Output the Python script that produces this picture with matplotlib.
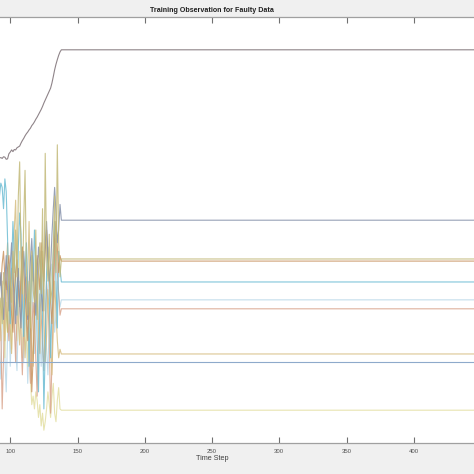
import numpy as np
import matplotlib
matplotlib.use('Agg')
import matplotlib.pyplot as plt

plt.rcParams['font.family'] = ['Liberation Sans', 'DejaVu Sans']

# time steps of the recorded (noisy) part, then the signals hold their last value
t_noisy = list(range(92, 139))
t_end = 450

dark = [66.9, 67.0, 66.8, 67.2, 67.1, 66.6, 66.7, 67.9, 68.3, 68.8,
        68.4, 68.9, 68.8, 69.3, 69.5, 69.7, 70.4, 71.0, 71.5, 72.1,
        72.6, 73.0, 73.5, 73.9, 74.5, 74.9, 75.4, 76.0, 76.5, 77.1,
        77.7, 78.3, 79.0, 79.8, 80.5, 81.2, 81.9, 82.6, 83.3, 84.5,
        86.0, 87.6, 88.9, 90.0, 91.0, 91.8, 92.3]
slate = [35, 40, 33, 29, 38, 44, 36, 31, 42, 47, 39, 34, 28, 36, 41, 33,
         27, 38, 45, 40, 35, 29, 37, 43, 48, 40, 34, 30, 38, 46, 42, 36,
         31, 39, 47, 52, 44, 38, 41, 49, 55, 60, 54, 47, 50, 56, 52.3]
olive = [30, 34, 28, 40, 36, 31, 26, 42, 38, 33, 45, 40, 50, 39, 58, 66,
         44, 35, 52, 64, 41, 30, 38, 27, 45, 36, 33, 50, 29, 40, 47, 35,
         55, 31, 68, 44, 38, 49, 33, 36, 46, 58, 40, 70, 47, 39, 43.2]
orange = [40, 37, 42, 45, 39, 36, 41, 44, 38, 30, 26, 35, 40, 43, 37, 32,
          39, 46, 41, 35, 30, 24, 33, 28, 12, 20, 31, 38, 44, 40, 36, 47,
          42, 38, 45, 50, 44, 39, 33, 28, 36, 48, 52, 46, 40, 44, 42.7]
teal = [58, 61, 60, 55, 62, 59, 48, 35, 28, 41, 52, 44, 38, 30, 46, 54,
        49, 33, 25, 40, 47, 36, 18, 30, 44, 38, 50, 42, 24, 12, 33, 45,
        29, 8, 22, 40, 46, 35, 20, 31, 44, 52, 38, 27, 45, 41, 37.8]
pale_blue = [22, 15, 28, 34, 20, 12, 25, 31, 18, 27, 36, 30, 22, 17, 29, 38,
             33, 24, 19, 31, 26, 14, 23, 35, 40, 28, 21, 33, 39, 30, 25, 18,
             27, 36, 31, 22, 16, 29, 37, 42, 34, 26, 30, 38, 35, 32, 33.6]
salmon = [30, 26, 8, 20, 33, 38, 29, 24, 35, 41, 36, 28, 19, 30, 37, 32,
          25, 16, 27, 34, 39, 31, 22, 14, 26, 33, 29, 20, 11, 24, 35, 30,
          23, 17, 28, 38, 33, 25, 7, 19, 32, 44, 48, 40, 35, 30, 31.5]
tan = [25, 32, 38, 30, 24, 41, 47, 36, 27, 21, 33, 50, 57, 40, 29, 23,
       35, 46, 31, 20, 27, 39, 52, 34, 24, 18, 30, 43, 37, 26, 21, 33,
       45, 28, 19, 25, 36, 30, 22, 16, 27, 38, 31, 24, 20, 22, 20.9]
pale_yellow = [30, 24, 36, 28, 20, 33, 26, 38, 31, 22, 35, 42, 29, 24, 37, 45,
               32, 20, 28, 34, 26, 18, 30, 15, 9, 11, 8, 12, 10, 6, 9, 4,
               7, 3, 5, 8, 12, 9, 6, 11, 14, 7, 5, 10, 13, 8, 7.7]
blue_level = 19.0   # this channel stays flat the whole time

series = [
    (pale_blue, '#b9d8e8'),
    (pale_yellow, '#e3dfa2'),
    (salmon, '#d9a48c'),
    (tan, '#d6bd80'),
    (teal, '#6cbcd3'),
    (orange, '#c9935f'),
    (slate, '#8591ab'),
    (olive, '#c2b978'),
]

fig = plt.figure(figsize=(4.74, 4.74), dpi=100, facecolor='#f0f0f0')
# axes is wider than the canvas: the original figure was cropped on the left
ax = fig.add_axes([-57 / 474, 31 / 474, 538 / 474, 426 / 474])
ax.set_facecolor('white')

for vals, col in series:
    ax.plot(t_noisy + [t_end], vals + [vals[-1]], color=col, linewidth=0.8, alpha=0.85)
ax.plot([t_noisy[0], t_end], [blue_level, blue_level], color='#8eaacb', linewidth=0.8)
ax.plot(t_noisy + [t_end], dark + [dark[-1]], color='#8f8489', linewidth=0.8)

ax.set_xlim(50, 450)
ax.set_ylim(0, 100)
ax.set_xticks(range(100, 401, 50))
ax.set_yticks([])
ax.tick_params(axis='x', direction='in', length=4, width=0.8, color='#707070',
               labelsize=4.3, labelcolor='#505050', pad=4, top=True)
for side in ['left', 'right']:
    ax.spines[side].set_visible(False)
for side in ['top', 'bottom']:
    ax.spines[side].set_color('#a0a0a0')
    ax.spines[side].set_linewidth(0.9)

ax.set_title('Training Observation for Faulty Data', fontsize=5.1,
             fontweight='bold', color='#202020', pad=3.5)
ax.set_xlabel('Time Step', fontsize=5.2, color='#404040', labelpad=1)

fig.savefig('out.png', dpi=100, facecolor=fig.get_facecolor())
